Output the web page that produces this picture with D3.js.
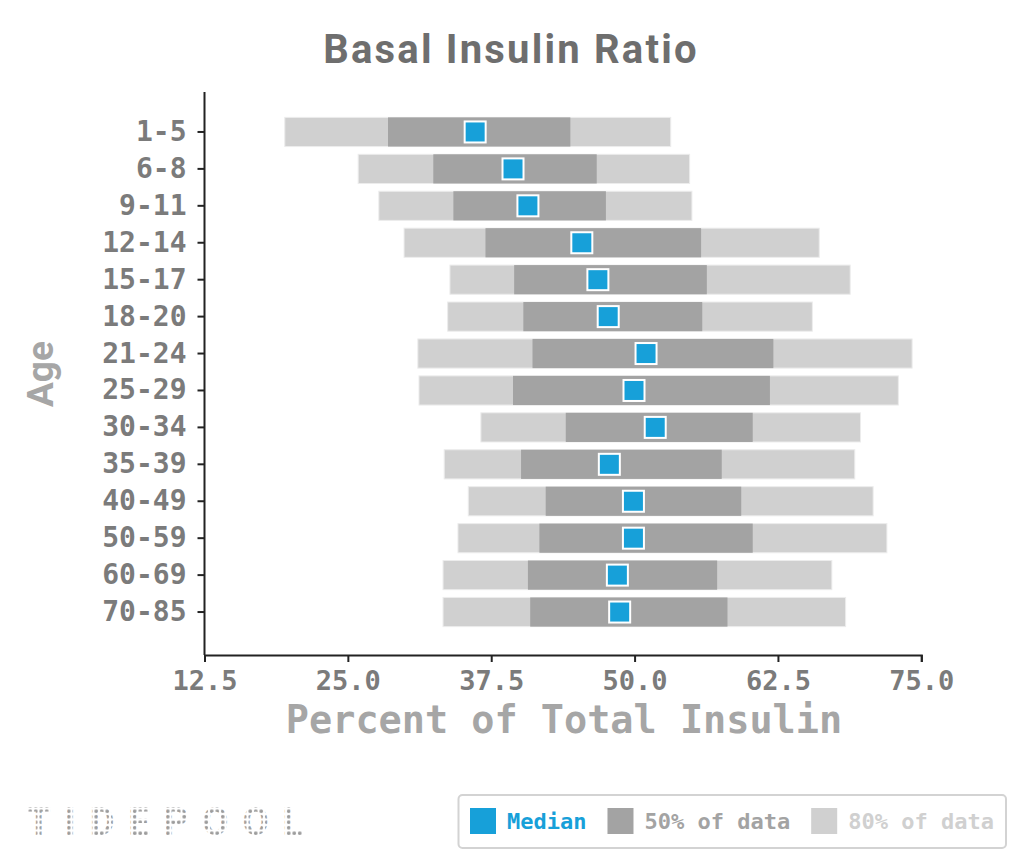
<!DOCTYPE html>
<html>
<head>
<meta charset="utf-8">
<script src="https://cdn.jsdelivr.net/npm/d3@7"></script>
<style>
  body { margin: 0; background: #fff; }
  svg { display: block; }
</style>
</head>
<body>
<svg id="chart" width="1024" height="865"></svg>
<script>
// age groups, top to bottom
const ages = ["1-5", "6-8", "9-11", "12-14", "15-17", "18-20", "21-24", "25-29",
              "30-34", "35-39", "40-49", "50-59", "60-69", "70-85"];

// percent of total insulin that is basal
const p10    = [19.5, 25.9, 27.7, 29.9, 33.9, 33.7, 31.1, 31.2, 36.6, 33.4, 35.5, 34.6, 33.3, 33.3];
const p25    = [28.5, 32.45, 34.2, 37.0, 39.5, 40.3, 41.1, 39.4, 44.0, 40.1, 42.25, 41.7, 40.7, 40.9];
const median = [36.1, 39.4, 40.7, 45.4, 46.8, 47.7, 51.0, 49.95, 51.8, 47.8, 49.9, 49.9, 48.5, 48.7];
const p75    = [44.4, 46.7, 47.5, 55.8, 56.3, 55.9, 62.1, 61.8, 60.3, 57.6, 59.3, 60.3, 57.2, 58.1];
const p90    = [53.15, 54.8, 55.0, 66.1, 68.8, 65.5, 74.2, 73.0, 69.7, 69.2, 70.8, 72.0, 67.2, 68.4];

const xTicks = [12.5, 25, 37.5, 50, 62.5, 75];
const legendItems = ["Median", "50% of data", "80% of data"];

const mono = "'DejaVu Sans Mono', 'Liberation Mono', monospace",
      sans = "Roboto, 'Open Sans', sans-serif";

const blue = "#17a0d9", dark = "#a3a3a3", light = "#d0d0d0";

const svg = d3.select("#chart");

const x = d3.scaleLinear().domain([12.5, 75]).range([204.5, 921.3]);
const y = d3.scaleBand().domain(ages).range([113.5, 630.5])
    .paddingInner(0.21).paddingOuter(0.105);

const rows = ages.map((a, i) => ({age: a, p10: p10[i], p25: p25[i], med: median[i], p75: p75[i], p90: p90[i]}));

// title
svg.append("text")
    .attr("x", 511).attr("y", 63)
    .attr("text-anchor", "middle")
    .style("font", `bold 40px ${sans}`)
    .style("letter-spacing", "2.2px")
    .attr("fill", "#6e6e6e")
    .text("Basal Insulin Ratio");

// bars
const g = svg.append("g");

g.selectAll("rect.outer")
  .data(rows)
  .join("rect")
    .attr("class", "outer")
    .attr("x", d => x(d.p10))
    .attr("width", d => x(d.p90) - x(d.p10))
    .attr("y", d => y(d.age))
    .attr("height", y.bandwidth())
    .attr("fill", light)
    .attr("stroke", "#ececec").attr("stroke-width", 1);

g.selectAll("rect.inner")
  .data(rows)
  .join("rect")
    .attr("class", "inner")
    .attr("x", d => x(d.p25))
    .attr("width", d => x(d.p75) - x(d.p25))
    .attr("y", d => y(d.age))
    .attr("height", y.bandwidth())
    .attr("fill", dark);

const sq = 21;
g.selectAll("rect.med")
  .data(rows)
  .join("rect")
    .attr("class", "med")
    .attr("x", d => x(d.med) - sq / 2)
    .attr("y", d => y(d.age) + y.bandwidth() / 2 - sq / 2)
    .attr("width", sq).attr("height", sq)
    .attr("fill", blue)
    .attr("stroke", "#fff").attr("stroke-width", 2);

// axes
const xAxis = svg.append("g")
    .attr("transform", "translate(0,655)")
    .call(d3.axisBottom(x).tickValues(xTicks).tickFormat(d3.format(".1f"))
        .tickSize(7).tickPadding(9).tickSizeOuter(7));

const yAxis = svg.append("g")
    .attr("transform", "translate(204.5,0)")
    .call(d3.axisLeft(y).tickSize(7).tickPadding(11));
yAxis.select(".domain").remove();
yAxis.append("line")
    .attr("y1", 92).attr("y2", 655)
    .attr("stroke", "#222").attr("stroke-width", 2);

[xAxis, yAxis].forEach(ax => {
  ax.selectAll(".domain, .tick line").attr("stroke", "#222").attr("stroke-width", 2);
  ax.selectAll(".tick text")
    .style("font", `bold 27px ${mono}`)
    .attr("fill", "#7b7b7b");
});
yAxis.selectAll(".tick text").style("font-size", "28px");

// axis titles
svg.append("text")
    .attr("x", 564).attr("y", 733)
    .attr("text-anchor", "middle")
    .style("font", `bold 38.5px ${mono}`)
    .attr("fill", "#a6a6a6")
    .text("Percent of Total Insulin");

svg.append("text")
    .attr("transform", "translate(53,374) rotate(-90)")
    .attr("text-anchor", "middle")
    .style("font", `bold 37px ${sans}`)
    .attr("fill", "#a6a6a6")
    .text("Age");

// legend
const legend = svg.append("g");
legend.append("rect")
    .attr("x", 458.5).attr("y", 795).attr("width", 547.5).attr("height", 53)
    .attr("rx", 4)
    .attr("fill", "#fff").attr("stroke", "#d3d3d3").attr("stroke-width", 2);

const legendColors = [blue, dark, light];
let lx = 470;
legendItems.forEach((label, i) => {
  legend.append("rect")
      .attr("x", lx).attr("y", 808).attr("width", 26).attr("height", 26)
      .attr("fill", legendColors[i]);
  const t = legend.append("text")
      .attr("x", lx + 37).attr("y", 829)
      .style("font", `bold 22px ${mono}`)
      .attr("fill", i === 0 ? blue : legendColors[i])
      .text(label);
  lx += 37 + t.node().getComputedTextLength() + 21;
});

// dotted logo
const defs = svg.append("defs");
defs.append("pattern")
    .attr("id", "dots")
    .attr("patternUnits", "userSpaceOnUse")
    .attr("width", 5.5).attr("height", 5.5)
  .append("circle")
    .attr("cx", 2.75).attr("cy", 2.75).attr("r", 1.9)
    .attr("fill", "#9c9c9c");

svg.append("text")
    .attr("x", 27).attr("y", 835)
    .style("font", `bold 38px ${sans}`)
    .style("letter-spacing", "14px")
    .attr("fill", "url(#dots)")
    .text("TIDEPOOL");
</script>
</body>
</html>
